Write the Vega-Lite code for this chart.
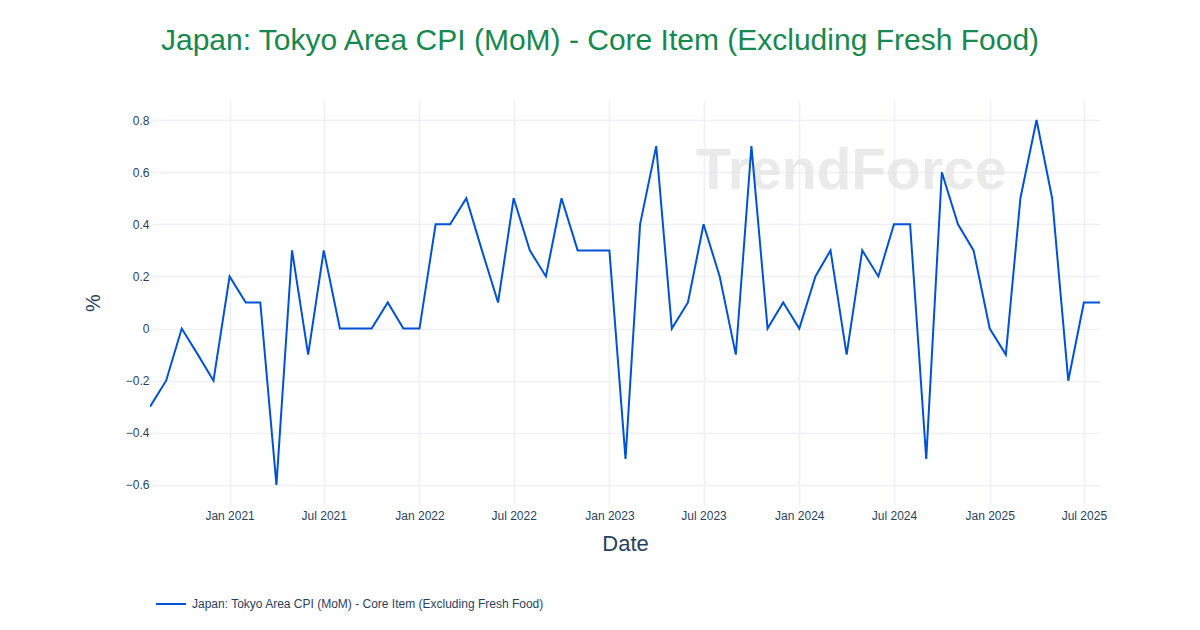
{
  "$schema": "https://vega.github.io/schema/vega-lite/v6.json",
  "autosize": {"type": "none"},
  "width": 950,
  "height": 405,
  "padding": {"left": 150, "top": 100, "right": 100, "bottom": 125},
  "background": "white",
  "config": {
    "font": "Liberation Sans",
    "view": {"stroke": null}
  },
  "title": {
    "text": "Japan: Tokyo Area CPI (MoM) - Core Item (Excluding Fresh Food)",
    "color": "#17884f",
    "fontSize": 30,
    "fontWeight": "normal",
    "font": "Liberation Sans",
    "anchor": "middle",
    "frame": "group",
    "dx": -25,
    "offset": 44
  },
  "datasets": {
    "cpi": [
      {"date": "2020-08-01", "value": -0.3},
      {"date": "2020-09-01", "value": -0.2},
      {"date": "2020-10-01", "value": 0.0},
      {"date": "2020-11-01", "value": -0.1},
      {"date": "2020-12-01", "value": -0.2},
      {"date": "2021-01-01", "value": 0.2},
      {"date": "2021-02-01", "value": 0.1},
      {"date": "2021-03-01", "value": 0.1},
      {"date": "2021-04-01", "value": -0.6},
      {"date": "2021-05-01", "value": 0.3},
      {"date": "2021-06-01", "value": -0.1},
      {"date": "2021-07-01", "value": 0.3},
      {"date": "2021-08-01", "value": 0.0},
      {"date": "2021-09-01", "value": 0.0},
      {"date": "2021-10-01", "value": 0.0},
      {"date": "2021-11-01", "value": 0.1},
      {"date": "2021-12-01", "value": 0.0},
      {"date": "2022-01-01", "value": 0.0},
      {"date": "2022-02-01", "value": 0.4},
      {"date": "2022-03-01", "value": 0.4},
      {"date": "2022-04-01", "value": 0.5},
      {"date": "2022-05-01", "value": 0.3},
      {"date": "2022-06-01", "value": 0.1},
      {"date": "2022-07-01", "value": 0.5},
      {"date": "2022-08-01", "value": 0.3},
      {"date": "2022-09-01", "value": 0.2},
      {"date": "2022-10-01", "value": 0.5},
      {"date": "2022-11-01", "value": 0.3},
      {"date": "2022-12-01", "value": 0.3},
      {"date": "2023-01-01", "value": 0.3},
      {"date": "2023-02-01", "value": -0.5},
      {"date": "2023-03-01", "value": 0.4},
      {"date": "2023-04-01", "value": 0.7},
      {"date": "2023-05-01", "value": 0.0},
      {"date": "2023-06-01", "value": 0.1},
      {"date": "2023-07-01", "value": 0.4},
      {"date": "2023-08-01", "value": 0.2},
      {"date": "2023-09-01", "value": -0.1},
      {"date": "2023-10-01", "value": 0.7},
      {"date": "2023-11-01", "value": 0.0},
      {"date": "2023-12-01", "value": 0.1},
      {"date": "2024-01-01", "value": 0.0},
      {"date": "2024-02-01", "value": 0.2},
      {"date": "2024-03-01", "value": 0.3},
      {"date": "2024-04-01", "value": -0.1},
      {"date": "2024-05-01", "value": 0.3},
      {"date": "2024-06-01", "value": 0.2},
      {"date": "2024-07-01", "value": 0.4},
      {"date": "2024-08-01", "value": 0.4},
      {"date": "2024-09-01", "value": -0.5},
      {"date": "2024-10-01", "value": 0.6},
      {"date": "2024-11-01", "value": 0.4},
      {"date": "2024-12-01", "value": 0.3},
      {"date": "2025-01-01", "value": 0.0},
      {"date": "2025-02-01", "value": -0.1},
      {"date": "2025-03-01", "value": 0.5},
      {"date": "2025-04-01", "value": 0.8},
      {"date": "2025-05-01", "value": 0.5},
      {"date": "2025-06-01", "value": -0.2},
      {"date": "2025-07-01", "value": 0.1},
      {"date": "2025-08-01", "value": 0.1}
    ],
    "mark": [
      {"date": "2024-04-10", "value": 0.6, "label": "TrendForce"}
    ]
  },
  "layer": [
    {
      "data": {"name": "mark"},
      "mark": {"type": "text", "fontSize": 57, "fontWeight": "bold", "font": "Liberation Sans", "color": "#e6e6e6", "opacity": 0.8, "baseline": "middle", "align": "center"},
      "encoding": {
        "x": {"field": "date", "type": "temporal"},
        "y": {"field": "value", "type": "quantitative"},
        "text": {"field": "label"}
      }
    },
    {
      "data": {"name": "cpi"},
      "mark": {"type": "line", "strokeWidth": 2, "clip": true},
      "encoding": {
        "x": {
          "field": "date",
          "type": "temporal",
          "scale": {"domain": [{"year": 2020, "month": 8, "date": 1}, {"year": 2025, "month": 8, "date": 1}], "nice": false},
          "axis": {
            "title": "Date",
            "titleFontSize": 22,
            "titleFontWeight": "normal",
            "titleColor": "#2a3f5f",
            "titlePadding": 12,
            "format": "%b %Y",
            "values": [
              {"year": 2021, "month": 1, "date": 1},
              {"year": 2021, "month": 7, "date": 1},
              {"year": 2022, "month": 1, "date": 1},
              {"year": 2022, "month": 7, "date": 1},
              {"year": 2023, "month": 1, "date": 1},
              {"year": 2023, "month": 7, "date": 1},
              {"year": 2024, "month": 1, "date": 1},
              {"year": 2024, "month": 7, "date": 1},
              {"year": 2025, "month": 1, "date": 1},
              {"year": 2025, "month": 7, "date": 1}
            ],
            "labelFontSize": 12,
            "labelColor": "#2a3f5f",
            "labelPadding": 5,
            "ticks": false,
            "domain": false,
            "grid": true,
            "gridColor": "#eef0f3",
            "gridWidth": 1.5,
            "labelOverlap": false
          }
        },
        "y": {
          "field": "value",
          "type": "quantitative",
          "scale": {"domain": [-0.677, 0.877], "nice": false, "zero": false},
          "axis": {
            "title": "%",
            "titleFontSize": 20,
            "titleFontWeight": "normal",
            "titleColor": "#2a3f5f",
            "titlePadding": 22,
            "values": [-0.6, -0.4, -0.2, 0, 0.2, 0.4, 0.6, 0.8],
            "format": ".1~f",
            "labelExpr": "replace(datum.label, '-', '\u2212')",
            "labelFontSize": 12,
            "labelColor": "#2a3f5f",
            "labelPadding": 1,
            "ticks": false,
            "domain": false,
            "grid": true,
            "gridColor": "#eef0f3",
            "gridWidth": 1.5
          }
        },
        "color": {
          "datum": "Japan: Tokyo Area CPI (MoM) - Core Item (Excluding Fresh Food)",
          "type": "nominal",
          "scale": {"range": ["#0052d6"]},
          "legend": {
            "title": null,
            "orient": "none",
            "legendX": 5,
            "legendY": 488,
            "symbolType": "stroke",
            "symbolSize": 900,
            "symbolStrokeWidth": 2,
            "labelFontSize": 12,
            "labelColor": "#2a3f5f",
            "labelOffset": 5,
            "labelLimit": 600
          }
        }
      }
    }
  ]
}
